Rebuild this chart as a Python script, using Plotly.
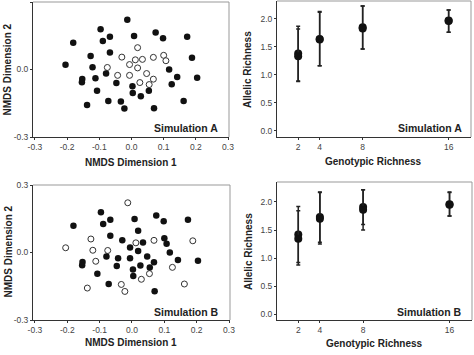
import plotly.graph_objects as go

# ---------------- data ----------------
nmds_x = [-0.013, -0.096, -0.067, 0.008, 0.075, 0.098, 0.173, -0.181, -0.089, -0.127,
          -0.067, 0.188, -0.205, -0.121, 0.117, -0.153, -0.154, -0.112, -0.079, -0.047,
          0.142, 0.204, 0.125, 0.003, -0.107, 0.054, 0.004, 0.029, -0.072, -0.033,
          0.162, -0.138, -0.022, 0.070,
          0.019, -0.030, 0.012, 0.034, 0.068, 0.100, 0.107, -0.006, 0.019, -0.075,
          0.047, -0.043, -0.006, 0.026, 0.068, 0.055]
nmds_y = [0.221, 0.179, 0.146, 0.149, 0.164, 0.139, 0.146, 0.119, 0.127, 0.060,
          0.075, 0.052, 0.021, 0.010, 0.000, -0.042, -0.057, -0.039, -0.018, -0.060,
          -0.033, -0.037, -0.066, -0.075, -0.094, -0.094, -0.104, -0.119, -0.140, -0.142,
          -0.140, -0.158, -0.173, -0.172,
          0.097, 0.055, 0.043, 0.045, 0.054, 0.063, 0.039, 0.022, 0.007, 0.009,
          -0.018, -0.026, -0.026, -0.058, -0.043, -0.067]
# 1 = filled, 0 = open
simA_filled = [1] * 34 + [0] * 16
simB_open_idx = [1, 10, 12, 13, 14, 18, 23, 26, 28, 30, 31, 32, 33, 37, 39, 44]
simB_filled = [0 if (i + 1) in simB_open_idx else 1 for i in range(50)]

genotypic = [2, 4, 8, 16]
# Simulation A (two overlapping series)
A1_mean = [1.38, 1.64, 1.85, 1.97]
A1_up = [0.49, 0.49, 0.38, 0.19]
A1_dn = [0.49, 0.48, 0.39, 0.21]
A2_mean = [1.33, 1.63, 1.83, 1.96]
A2_up = [0.49, 0.49, 0.40, 0.20]
A2_dn = [0.45, 0.47, 0.37, 0.20]
# Simulation B
B1_mean = [1.42, 1.73, 1.91, 1.96]
B1_up = [0.50, 0.45, 0.31, 0.22]
B1_dn = [0.50, 0.45, 0.31, 0.21]
B2_mean = [1.345, 1.70, 1.86, 1.95]
B2_up = [0.50, 0.47, 0.36, 0.22]
B2_dn = [0.47, 0.45, 0.36, 0.20]

nmds_ticks = [-0.3, -0.2, -0.1, 0.0, 0.1, 0.2, 0.3]
nmds_yticks = [-0.3, 0.0, 0.3]
allelic_ticks = [0.0, 0.5, 1.0, 1.5, 2.0]

W, H = 474, 355
FONT = "Liberation Sans, Arial, sans-serif"

def px_x(p):
    return p / W

def px_y(p):
    return 1 - p / H

fig = go.Figure()

# scatter panels
for ax, flags in (("", simA_filled), ("3", simB_filled)):
    fx = [x for x, f in zip(nmds_x, flags) if f]
    fy = [y for y, f in zip(nmds_y, flags) if f]
    ox = [x for x, f in zip(nmds_x, flags) if not f]
    oy = [y for y, f in zip(nmds_y, flags) if not f]
    fig.add_trace(go.Scatter(x=ox, y=oy, mode="markers", xaxis="x" + ax, yaxis="y" + ax,
                             marker=dict(size=6, color="white", line=dict(color="#333", width=1)),
                             showlegend=False))
    fig.add_trace(go.Scatter(x=fx, y=fy, mode="markers", xaxis="x" + ax, yaxis="y" + ax,
                             marker=dict(size=6.5, color="#111", line=dict(width=0)),
                             showlegend=False))

# error-bar panels
for ax, series in (("2", [(A1_mean, A1_up, A1_dn), (A2_mean, A2_up, A2_dn)]),
                   ("4", [(B1_mean, B1_up, B1_dn), (B2_mean, B2_up, B2_dn)])):
    for m, up, dn in series:
        fig.add_trace(go.Scatter(x=genotypic, y=m, mode="markers", xaxis="x" + ax, yaxis="y" + ax,
                                 marker=dict(size=8, color="#111"),
                                 error_y=dict(type="data", symmetric=False, array=up, arrayminus=dn,
                                              color="#222", thickness=1.5, width=2),
                                 showlegend=False))

tickfont = dict(family=FONT, size=8.5, color="#444")
common = dict(showgrid=False, zeroline=False, showline=True, linecolor="#333", linewidth=1,
              ticks="outside", ticklen=2, tickcolor="#333", tickwidth=1, tickfont=tickfont,
              mirror=False, automargin=False)

doms = {
    "": ([33, 229], [137, 2]),
    "2": ([277, 471], [137, 1]),
    "3": ([33, 230], [320, 185]),
    "4": ([277, 472], [320, 182]),
}
layout = dict(width=W, height=H, margin=dict(l=0, r=0, t=0, b=0, pad=0),
              plot_bgcolor="white", paper_bgcolor="white", showlegend=False)
for ax, (xd, yd) in doms.items():
    xk = "xaxis" + ax
    yk = "yaxis" + ax
    if ax in ("", "3"):
        xr = [-0.306, 0.303]
        yr = [-0.3, 0.3]
        layout[xk] = dict(common, domain=[px_x(xd[0]), px_x(xd[1])], range=xr,
                          tickvals=nmds_ticks, ticktext=["-0.3", "-0.2", "-0.1", "0.0", "0.1", "0.2", "0.3"],
                          anchor="y" + ax)
        layout[yk] = dict(common, domain=[px_y(yd[0]), px_y(yd[1])], range=yr,
                          tickvals=nmds_yticks, ticktext=["-0.3", "0.0", "0.3"], anchor="x" + ax)
    else:
        if ax == "2":
            yr = [-0.113, 2.32]
        else:
            yr = [-0.107, 2.357]
        layout[xk] = dict(common, domain=[px_x(xd[0]), px_x(xd[1])], range=[0.03, 18.08],
                          tickvals=genotypic, ticktext=[str(g) for g in genotypic], anchor="y" + ax)
        layout[yk] = dict(common, domain=[px_y(yd[0]), px_y(yd[1])], range=yr,
                          tickvals=allelic_ticks, ticktext=["0.0", "0.5", "1.0", "1.5", "2.0"],
                          anchor="x" + ax)
fig.update_layout(**layout)

# gray top/right frame lines
shapes = []
for ax in ("", "2", "3", "4"):
    xr = "x" + ax + " domain" if ax else "x domain"
    yr = "y" + ax + " domain" if ax else "y domain"
    shapes.append(dict(type="line", xref=xr, yref=yr, x0=0, x1=1, y0=1, y1=1,
                       line=dict(color="#999", width=1)))
    shapes.append(dict(type="line", xref=xr, yref=yr, x0=1, x1=1, y0=0, y1=1,
                       line=dict(color="#999", width=1)))
fig.update_layout(shapes=shapes)

titlefont = dict(family=FONT, size=10, color="#222")
labfont = dict(family=FONT, size=10.5, color="#222")
ann = []
# x titles
ann.append(dict(text="<b>NMDS Dimension 1</b>", x=px_x(131), y=px_y(162), xref="paper", yref="paper",
                showarrow=False, font=titlefont, xanchor="center", yanchor="middle"))
ann.append(dict(text="<b>NMDS Dimension 1</b>", x=px_x(131), y=px_y(342), xref="paper", yref="paper",
                showarrow=False, font=titlefont, xanchor="center", yanchor="middle"))
ann.append(dict(text="<b>Genotypic Richness</b>", x=px_x(373), y=px_y(161), xref="paper", yref="paper",
                showarrow=False, font=titlefont, xanchor="center", yanchor="middle"))
ann.append(dict(text="<b>Genotypic Richness</b>", x=px_x(374), y=px_y(343), xref="paper", yref="paper",
                showarrow=False, font=titlefont, xanchor="center", yanchor="middle"))
# y titles
ann.append(dict(text="<b>NMDS Dimension 2</b>", x=px_x(7.5), y=px_y(70), xref="paper", yref="paper",
                showarrow=False, font=titlefont, textangle=-90, xanchor="center", yanchor="middle"))
ann.append(dict(text="<b>NMDS Dimension 2</b>", x=px_x(7.5), y=px_y(252), xref="paper", yref="paper",
                showarrow=False, font=titlefont, textangle=-90, xanchor="center", yanchor="middle"))
ann.append(dict(text="<b>Allelic Richness</b>", x=px_x(248), y=px_y(70), xref="paper", yref="paper",
                showarrow=False, font=titlefont, textangle=-90, xanchor="center", yanchor="middle"))
ann.append(dict(text="<b>Allelic Richness</b>", x=px_x(248), y=px_y(252), xref="paper", yref="paper",
                showarrow=False, font=titlefont, textangle=-90, xanchor="center", yanchor="middle"))
# panel labels
for xx, yy, t in ((220, 128, "Simulation A"), (464, 128, "Simulation A"),
                  (221, 312, "Simulation B"), (464, 312, "Simulation B")):
    ann.append(dict(text="<b>" + t + "</b>", x=px_x(xx), y=px_y(yy), xref="paper", yref="paper",
                    showarrow=False, font=labfont, xanchor="right", yanchor="middle"))
fig.update_layout(annotations=ann)

fig.write_html("out.html", config={"displayModeBar": False},
               post_script="document.body.style.margin='0';document.body.style.overflow='hidden';")
